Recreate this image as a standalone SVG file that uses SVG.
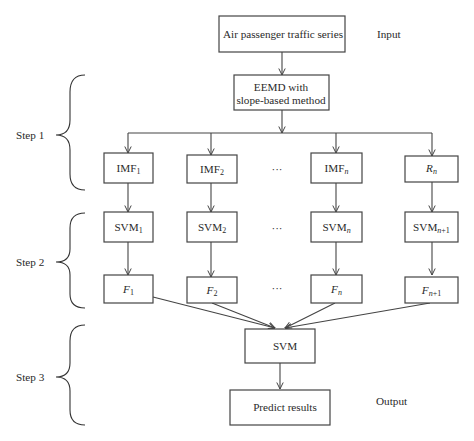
<svg xmlns="http://www.w3.org/2000/svg" width="474" height="441" viewBox="0 0 474 441">
<defs>
<marker id="ah" viewBox="0 0 8 8" refX="7.5" refY="4" markerWidth="8" markerHeight="8" markerUnits="userSpaceOnUse" orient="auto">
<path d="M1,0.8 L7.5,4 L1,7.2" fill="none" stroke="#444" stroke-width="1"/>
</marker>
<style>
.n rect{fill:#fff;stroke:#444;stroke-width:1.2}
text{font-family:"Liberation Serif","Times New Roman",serif;font-size:11.2px;fill:#2a2a2a;text-anchor:middle}
.l{text-anchor:start}
.c line{stroke:#444;stroke-width:1.1;fill:none}
.b{stroke:#333;stroke-width:1.1;fill:none}
.i{font-style:italic}
.s{font-size:8px}
</style>
</defs>
<rect width="474" height="441" style="fill:#fff;stroke:none"/>

<g id="input-label"><text class="l" x="377" y="38">Input</text></g>
<g id="output-label"><text class="l" x="376" y="405">Output</text></g>

<g id="step1"><path class="b" d="M85,75 Q70,75 70,92 L70,120 Q70,135 56,135 Q70,135 70,150 L70,174 Q70,190 85,190"/><text class="l" x="16" y="139">Step 1</text></g>
<g id="step2"><path class="b" d="M85,213 Q70,213 70,228 L70,249 Q70,262 56,262 Q70,262 70,275 L70,294 Q70,308 85,308"/><text class="l" x="16" y="266">Step 2</text></g>
<g id="step3"><path class="b" d="M85,325 Q70,325 70,341 L70,363 Q70,377 56,377 Q70,377 70,391 L70,410 Q70,425 85,425"/><text class="l" x="16" y="381">Step 3</text></g>

<g class="c" id="connectors">
<line x1="282" y1="52" x2="282" y2="75" marker-end="url(#ah)"/>
<line x1="282" y1="110" x2="282" y2="133" marker-end="url(#ah)"/>
<line x1="128" y1="133" x2="432" y2="133"/>
<line x1="128" y1="133" x2="128" y2="153" marker-end="url(#ah)"/>
<line x1="211" y1="133" x2="211" y2="155" marker-end="url(#ah)"/>
<line x1="336" y1="133" x2="336" y2="153" marker-end="url(#ah)"/>
<line x1="432" y1="133" x2="432" y2="156" marker-end="url(#ah)"/>
<line x1="128" y1="183" x2="128" y2="212" marker-end="url(#ah)"/>
<line x1="211" y1="183" x2="211" y2="212" marker-end="url(#ah)"/>
<line x1="336" y1="183" x2="336" y2="212" marker-end="url(#ah)"/>
<line x1="432" y1="182" x2="432" y2="212" marker-end="url(#ah)"/>
<line x1="128" y1="242" x2="128" y2="275" marker-end="url(#ah)"/>
<line x1="211" y1="242" x2="211" y2="277" marker-end="url(#ah)"/>
<line x1="336" y1="242" x2="336" y2="275" marker-end="url(#ah)"/>
<line x1="432" y1="242" x2="432" y2="275" marker-end="url(#ah)"/>
<line x1="153" y1="297" x2="275" y2="328" marker-end="url(#ah)"/>
<line x1="212" y1="303" x2="275" y2="328" marker-end="url(#ah)"/>
<line x1="335" y1="303" x2="285" y2="328" marker-end="url(#ah)"/>
<line x1="430" y1="303" x2="285" y2="328" marker-end="url(#ah)"/>
<line x1="280" y1="363" x2="280" y2="389" marker-end="url(#ah)"/>
</g>

<g class="n" id="n-input"><rect x="219" y="16" width="126" height="36"/><text x="283" y="38">Air passenger traffic series</text></g>
<g class="n" id="n-eemd"><rect x="234" y="75" width="95" height="35"/><text x="281" y="91">EEMD with</text><text x="281" y="104">slope-based method</text></g>

<g class="n" id="n-imf1"><rect x="104" y="153" width="49" height="30"/><text x="128.5" y="172">IMF<tspan class="s" dy="2">1</tspan></text></g>
<g class="n" id="n-imf2"><rect x="187" y="155" width="50" height="28"/><text x="212" y="173">IMF<tspan class="s" dy="2">2</tspan></text></g>
<g class="n" id="n-imfn"><rect x="311" y="153" width="51" height="30"/><text x="336.5" y="172">IMF<tspan class="s i" dy="2">n</tspan></text></g>
<g class="n" id="n-rn"><rect x="405" y="156" width="53" height="26"/><text x="431.5" y="172"><tspan class="i">R</tspan><tspan class="s i" dy="2">n</tspan></text></g>
<g id="dots1"><text x="277" y="173">···</text></g>

<g class="n" id="n-svm1"><rect x="104" y="212" width="49" height="30"/><text x="128.5" y="231">SVM<tspan class="s" dy="2">1</tspan></text></g>
<g class="n" id="n-svm2"><rect x="187" y="212" width="50" height="30"/><text x="212" y="231">SVM<tspan class="s" dy="2">2</tspan></text></g>
<g class="n" id="n-svmn"><rect x="311" y="212" width="51" height="30"/><text x="336.5" y="231">SVM<tspan class="s i" dy="2">n</tspan></text></g>
<g class="n" id="n-svmn1"><rect x="405" y="212" width="53" height="30"/><text x="431.5" y="231">SVM<tspan class="s i" dy="2">n</tspan><tspan class="s">+1</tspan></text></g>
<g id="dots2"><text x="277" y="232">···</text></g>

<g class="n" id="n-f1"><rect x="104" y="275" width="49" height="28"/><text x="128.5" y="293"><tspan class="i">F</tspan><tspan class="s" dy="2">1</tspan></text></g>
<g class="n" id="n-f2"><rect x="187" y="277" width="50" height="26"/><text x="212" y="294"><tspan class="i">F</tspan><tspan class="s" dy="2">2</tspan></text></g>
<g class="n" id="n-fn"><rect x="311" y="275" width="51" height="28"/><text x="336.5" y="293"><tspan class="i">F</tspan><tspan class="s i" dy="2">n</tspan></text></g>
<g class="n" id="n-fn1"><rect x="405" y="277" width="53" height="26"/><text x="431.5" y="294"><tspan class="i">F</tspan><tspan class="s i" dy="2">n</tspan><tspan class="s">+1</tspan></text></g>
<g id="dots3"><text x="277" y="292">···</text></g>

<g class="n" id="n-svm"><rect x="245" y="329" width="70" height="34"/><text x="285" y="350">SVM</text></g>
<g class="n" id="n-predict"><rect x="230" y="390" width="100" height="35"/><text x="285" y="411">Predict results</text></g>
</svg>
